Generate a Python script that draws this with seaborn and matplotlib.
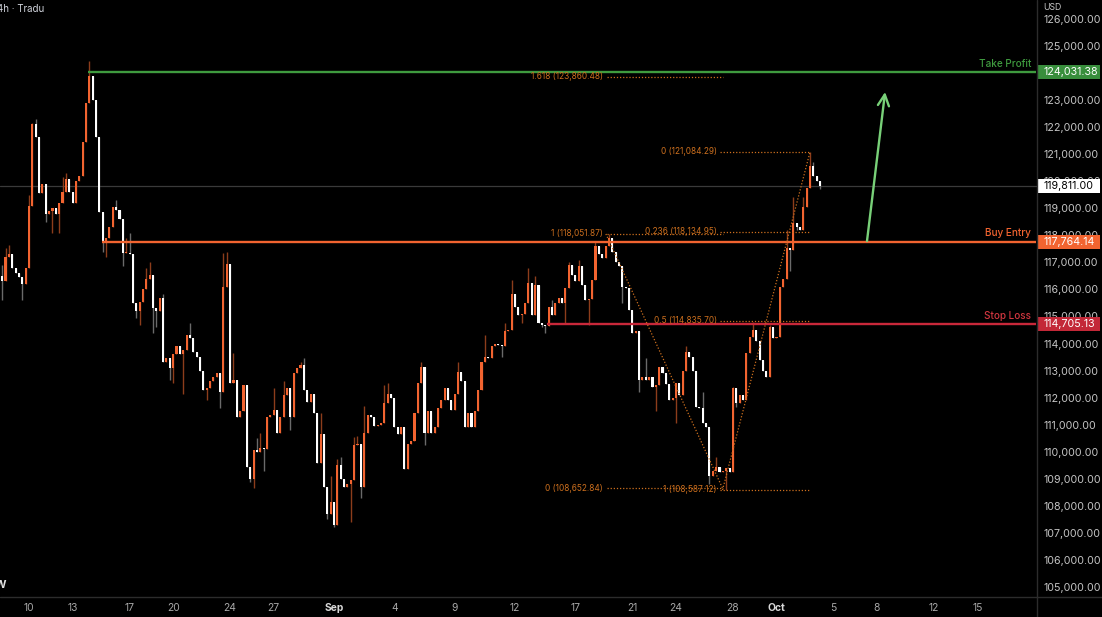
import numpy as np
import pandas as pd
import matplotlib
matplotlib.use("Agg")
import matplotlib.pyplot as plt
import seaborn as sns
from matplotlib.patches import Rectangle
from matplotlib.lines import Line2D
from matplotlib.transforms import blended_transform_factory

# ---------------- data (prices in thousands of USD, 4h bars, bar 0 = Sun Aug 10) -------------
first_bar = -8
first_open_k = 116.5
close_k = [
    116.3, 117.2, 117.3, 116.8, 116.6, 116.45, 116.2, 116.8,
    119.1, 122.1, 121.65, 119.55, 119.9, 118.8, 118.9, 119.0, 118.8, 119.2,
    119.6, 120.1, 119.6, 119.2, 120.0, 120.2, 121.45, 122.9, 123.9, 123.0,
    121.65, 118.85, 117.8, 117.9, 118.3, 119.05, 118.95, 118.6, 117.35, 117.35,
    117.3, 115.5, 115.2, 115.55, 116.0, 116.4, 116.55, 115.3, 115.2, 115.7,
    113.3, 113.45, 113.1, 113.6, 113.9, 113.6, 113.75, 114.3, 114.2, 113.7,
    113.5, 113.0, 112.3, 112.35, 112.6, 112.75, 112.9, 112.2, 116.1, 116.95,
    112.55, 112.65, 111.3, 111.5, 112.45, 109.45, 109.0, 110.05, 110.0, 110.15,
    110.1, 111.3, 111.35, 111.55, 110.7, 111.3, 112.1, 112.35, 111.3, 112.9,
    113.1, 113.2, 112.3, 111.85, 112.15, 111.45, 109.6, 110.65, 108.7, 107.7,
    108.15, 107.3, 109.5, 109.0, 108.7, 108.8, 108.95, 110.25, 110.3, 108.7,
    110.7, 111.35, 111.3, 110.95, 111.0, 111.05, 111.8, 112.15, 112.0, 110.9,
    110.65, 110.9, 109.35, 110.3, 110.4, 111.45, 112.55, 113.15, 110.7, 111.5,
    110.7, 110.9, 111.6, 111.9, 112.35, 111.9, 111.55, 112.15, 112.95, 112.6,
    110.9, 111.45, 110.9, 111.5, 112.3, 113.3, 113.5, 113.45, 113.9, 114.0,
    113.95, 113.9, 114.45, 114.5, 115.85, 115.35, 115.05, 115.1, 115.5, 116.25,
    115.05, 116.15, 114.75, 114.7, 114.65, 115.35, 115.05, 115.5, 115.7, 115.5,
    116.05, 116.9, 116.55, 116.3, 116.85, 116.15, 115.6, 115.65, 116.35, 117.6,
    117.3, 117.15, 117.6, 117.9, 117.4, 117.0, 116.85, 116.1, 116.05, 115.25,
    114.4, 114.45, 112.65, 112.75, 112.65, 112.75, 112.4, 112.45, 113.15, 112.9,
    112.5, 111.9, 112.0, 112.55, 112.1, 113.0, 113.7, 113.5, 113.0, 111.65,
    111.6, 111.05, 110.9, 109.1, 109.3, 109.45, 109.25, 109.3, 109.4, 109.25,
    112.35, 111.8, 112.1, 111.9, 113.65, 114.25, 114.5, 114.1, 113.4, 113.0,
    112.75, 114.6, 114.2, 114.25, 116.1, 116.4, 117.55, 117.45, 118.45, 118.3,
    118.2, 119.05, 119.75, 120.55, 120.2, 120.0, 119.811,
]
# notable wick highs / lows
hi_idx = [-8, -7, -6, 0, 1, 2, 10, 11, 18, 26, 29, 30, 35, 36, 40, 48, 58, 59, 61, 68, 69,
          73, 76, 81, 82, 87, 90, 92, 93, 97, 98, 100, 106, 107, 117, 128, 136, 142, 144,
          149, 151, 156, 161, 164, 169, 173, 184, 196, 201, 205, 210, 216, 221, 226, 228, 231,
          233, 234]
hi_k = [116.9, 117.55, 117.65, 119.5, 122.15, 122.3, 120.15, 120.3, 124.45, 119.3, 117.9,
        118.1, 116.8, 117.0, 115.85, 114.75, 117.35, 117.4, 113.65, 110.5, 110.7, 112.35,
        112.6, 113.3, 113.45, 111.45, 109.1, 109.75, 109.8, 110.55, 110.6, 111.7, 112.45,
        112.55, 113.3, 113.3, 114.3, 114.75, 116.35, 116.8, 116.5, 115.6, 117.0, 117.1, 117.75,
        118.05, 113.45, 113.9, 112.2, 109.8, 112.4, 114.8, 114.7, 118.2, 119.4, 119.4,
        121.08, 120.7]
lo_idx = [-8, -2, 5, 7, 9, 22, 23, 28, 32, 33, 37, 38, 42, 43, 46, 53, 57, 66, 67, 70, 78,
          89, 91, 96, 99, 118, 141, 147, 153, 154, 160, 167, 177, 182, 187, 193, 203, 208, 211,
          227, 229, 236]
lo_k = [115.6, 115.6, 118.5, 118.1, 118.1, 117.4, 117.2, 116.85, 114.95, 114.7, 114.4, 114.6,
        112.65, 112.55, 112.15, 111.9, 111.6, 108.9, 108.65, 109.3, 110.8, 107.5, 107.2,
        107.4, 108.3, 110.25, 113.5, 114.75, 114.6, 114.4, 114.75, 114.7, 115.5, 112.2, 111.5,
        111.05, 108.8, 108.6, 111.65, 116.7, 118.2, 119.7]

tick_bars = [0, 13, 30, 43, 60, 73, 91, 109, 127, 145, 163, 180, 193, 210, 223, 240, 253, 270, 283]
tick_text = ["10", "13", "17", "20", "24", "27", "Sep", "4", "9", "12", "17", "21", "24",
             "28", "Oct", "5", "8", "12", "15"]

take_profit = 124031.38
buy_entry = 117764.14
stop_loss = 114705.13
last_price = 119811.00

fibA_levels = ["1.618", "1", "0"]
fibA_prices = [123860.48, 118051.87, 108652.84]
fibB_levels = ["0", "0.236", "0.5", "1"]
fibB_prices = [121084.29, 118134.95, 114835.70, 108587.12]
fibA_path_bars = [172.1, 206.9]
fibA_path_prices = [118051.87, 108652.84]
fibB_path_bars = [206.9, 233.0]
fibB_path_prices = [108587.12, 121084.29]
arrow_bars = [250.0, 255.4]
arrow_prices = [117790.0, 123300.0]

# ---------------- style ----------------
sns.set_theme(style="dark", rc={"axes.facecolor": "black", "figure.facecolor": "black",
                                "axes.grid": False})
plt.rcParams["font.family"] = ["Inter", "DejaVu Sans"]

W, H = 1102, 617
PX_BAR = 3.352
X0 = 29.0

def bar_of(px):
    return (px - X0) / PX_BAR

fig = plt.figure(figsize=(W / 100, H / 100), dpi=100, facecolor="black")
AX_W = 1036.5
AX_H = 597.0
ax = fig.add_axes([0, (H - AX_H) / H, AX_W / W, AX_H / H])
ax.set_facecolor("black")

PX_K = 27.05  # pixels per 1000 USD
ylo = 125000 - (AX_H - 46) / PX_K * 1000
yhi = 125000 + 46 / PX_K * 1000
xlo, xhi = bar_of(0), bar_of(AX_W)
ax.set_xlim(xlo, xhi)
ax.set_ylim(ylo, yhi)
USD_PX = 1000 / PX_K

# ---------------- candles ----------------
close = np.array(close_k) * 1000
n = len(close)
bars = np.arange(first_bar, first_bar + n)
open_ = np.r_[first_open_k * 1000, close[:-1]]
high = np.maximum(open_, close)
low = np.minimum(open_, close)
for b, v in zip(hi_idx, hi_k):
    i = b - first_bar
    high[i] = max(high[i], v * 1000)
for b, v in zip(lo_idx, lo_k):
    i = b - first_bar
    low[i] = min(low[i], v * 1000)
df = pd.DataFrame({"bar": bars, "open": open_, "close": close, "high": high, "low": low})
df["up"] = df["close"] >= df["open"]

UP = "#f26430"
DN = "#ffffff"
UPW = "#8c3d1b"
DNW = "#6a6a6a"
for flag, bc, wc in [(True, UP, UPW), (False, DN, DNW)]:
    d = df[df["up"] == flag]
    ax.vlines(d["bar"], d["low"], d["high"], color=wc, lw=1.0, zorder=3)
    body = (d["close"] - d["open"]).to_numpy()
    body = np.where(np.abs(body) < 1.2 * USD_PX, np.where(body >= 0, 1.2 * USD_PX, -1.2 * USD_PX), body)
    ax.bar(d["bar"], body, bottom=d["open"], width=0.62, color=bc, lw=0, zorder=4)

# ---------------- level lines ----------------
ax.axhline(last_price, color="#3a3a3a", lw=0.9, zorder=2)
levels = [
    (take_profit, bar_of(88), "#3f9b3f", "#3f9b3f", "Take Profit"),
    (buy_entry, bar_of(102), "#f26430", "#f26430", "Buy Entry"),
    (stop_loss, bar_of(547), "#c8283a", "#d2363f", "Stop Loss"),
]
for y, x0, lc, tc, txt in levels:
    ax.hlines(y, x0, xhi, color=lc, lw=1.7, zorder=5)
    ax.annotate(txt, xy=(bar_of(1031), y), xytext=(0, 2.5), textcoords="offset points",
                ha="right", va="bottom", color=tc, fontsize=7.2, fontweight="medium", zorder=6)

# fib tools
FIB = "#cc6f1e"
for lv, p in zip(fibA_levels, fibA_prices):
    ax.hlines(p, bar_of(607), bar_of(723), color=FIB, lw=0.9, linestyles=(0, (1, 1.5)), zorder=5)
    ax.text(bar_of(603), p, f"{lv} ({p:,.2f})", ha="right", va="center", color=FIB,
            fontsize=6.0, zorder=6)
for lv, p in zip(fibB_levels, fibB_prices):
    ax.hlines(p, bar_of(720), bar_of(810), color=FIB, lw=0.9, linestyles=(0, (1, 1.5)), zorder=5)
    ax.text(bar_of(717), p, f"{lv} ({p:,.2f})", ha="right", va="center", color=FIB,
            fontsize=6.0, zorder=6)
path = pd.DataFrame({"bar": fibA_path_bars + fibB_path_bars,
                     "price": fibA_path_prices + fibB_path_prices,
                     "seg": ["A", "A", "B", "B"]})
for seg, d in path.groupby("seg"):
    sns.lineplot(data=d, x="bar", y="price", ax=ax, color=FIB, lw=0.9,
                 linestyle=(0, (1, 1.5)), zorder=5, legend=False)
ax.set_xlabel("")
ax.set_ylabel("")

# arrow
ax.annotate("", xy=(arrow_bars[1], arrow_prices[1]), xytext=(arrow_bars[0], arrow_prices[0]),
            arrowprops=dict(arrowstyle="->", color="#78d078", lw=1.7, mutation_scale=20,
                            shrinkA=0, shrinkB=0), zorder=6)

# ---------------- axes ----------------
for s in ax.spines.values():
    s.set_visible(False)
ax.yaxis.tick_right()
yt = [v for v in np.arange(105000, 126001, 1000) if v != 124000]
ax.set_yticks(yt)
ax.set_yticklabels([f"{v:,.2f}" for v in yt])
ax.tick_params(axis="y", length=0, pad=5.4, labelsize=7.7, labelcolor="#c4c4c4")
ax.set_xticks(tick_bars)
ax.set_xticklabels(tick_text)
ax.tick_params(axis="x", length=0, pad=4.6, labelsize=7.4, labelcolor="#a8a8a8")
for lab in ax.get_xticklabels():
    if lab.get_text() in ("Sep", "Oct"):
        lab.set_fontweight("bold")
        lab.set_color("#d8d8d8")

# price boxes on axis
tr = blended_transform_factory(ax.transAxes, ax.transData)
boxes = [(take_profit, "#388e3c", "white"), (last_price, "#ffffff", "black"),
         (buy_entry, "#f26430", "white"), (stop_loss, "#c32838", "white")]
for y, fc, tc in boxes:
    ax.add_patch(Rectangle((1037.2 / AX_W, y - 7 * USD_PX), (1100 - 1037.2) / AX_W, 14 * USD_PX,
                           transform=tr, facecolor=fc, edgecolor="none", clip_on=False, zorder=20))
    ax.text(1044 / AX_W, y, f"{y:,.2f}", transform=tr, ha="left", va="center", color=tc,
            fontsize=7.7, clip_on=False, zorder=21)

# separators
fig.add_artist(Line2D([AX_W / W, AX_W / W], [0, 1], transform=fig.transFigure, color="#2c2c2c", lw=1))
fig.add_artist(Line2D([0, 1], [(H - AX_H) / H] * 2, transform=fig.transFigure, color="#2c2c2c", lw=1))

fig.text(1043 / W, 1 - 8 / H, "USD", ha="left", va="center", color="#c4c4c4", fontsize=6.3)
fig.text(-3 / W, 1 - 9 / H, "4h · Tradu", ha="left", va="center", color="#d1d4dc", fontsize=7.0)
fig.text(-5 / W, 1 - 585 / H, "W", ha="left", va="center", color="#e0e0e0", fontsize=8,
         fontweight="bold")

fig.savefig("out.png", dpi=100, facecolor="black")
